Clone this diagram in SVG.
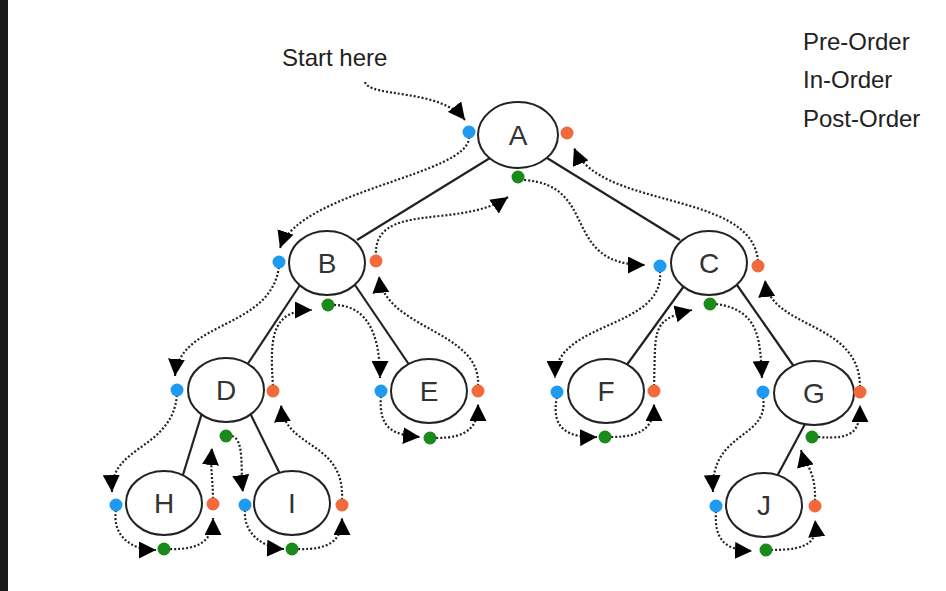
<svg xmlns="http://www.w3.org/2000/svg" width="946" height="591" viewBox="0 0 946 591">
<defs>
<marker id="ar" viewBox="0 0 10 10" refX="10" refY="5" markerWidth="17" markerHeight="17" markerUnits="userSpaceOnUse" orient="auto"><path d="M0,0 L10,5 L0,10 z" fill="#000"/></marker>
<style>
.n ellipse{fill:#fff;stroke:#222;stroke-width:2}
.n text{font-family:"Liberation Sans",Arial,sans-serif;font-size:28px;fill:#333;text-anchor:middle}
.e line{stroke:#222;stroke-width:2.2}
.t path{fill:none;stroke:#222;stroke-width:2.2;stroke-dasharray:2 2;marker-end:url(#ar)}
.b{fill:#1e9bf0}.o{fill:#f06a3c}.g{fill:#1a8a1a}
.lbl{font-family:"Liberation Sans",Arial,sans-serif;font-size:24px;fill:#222}
</style>
</defs>
<rect width="946" height="591" fill="#fff"/>
<rect width="8" height="591" fill="#1a1a1a"/>
<g class="e">
<line x1="490" y1="158" x2="357" y2="240"/><line x1="547" y1="158" x2="680" y2="240"/>
<line x1="300" y1="285" x2="247" y2="365"/><line x1="355" y1="285" x2="410" y2="366"/>
<line x1="684" y1="286" x2="626" y2="366"/><line x1="737" y1="285" x2="795" y2="368"/>
<line x1="202" y1="413" x2="182" y2="478"/><line x1="250" y1="413" x2="282" y2="478"/>
<line x1="805" y1="424" x2="775" y2="480"/>
</g>
<g class="t">
<path d="M365,82 C370,98 440,88 465,120"/>
<path d="M469,137 C470,175 300,190 280,248"/>
<path d="M279,267 C270,330 180,320 175,376"/>
<path d="M177,395 C172,450 110,445 112,492"/>
<path d="M116,510 C112,535 130,550 156,550"/>
<path d="M170,549 C200,550 213,540 213,518"/>
<path d="M213,499 C213,480 210,470 212,448"/>
<path d="M232,436 C245,440 240,470 243,492"/>
<path d="M245,510 C243,535 265,548 284,549"/>
<path d="M298,549 C330,550 342,540 342,518"/>
<path d="M342,500 C345,440 285,450 281,405"/>
<path d="M273,386 C270,340 270,310 312,310"/>
<path d="M334,305 C375,305 380,350 380,378"/>
<path d="M381,396 C378,430 395,435 420,437"/>
<path d="M436,438 C470,438 478,425 478,404"/>
<path d="M478,386 C482,330 385,330 379,276"/>
<path d="M376,257 C372,200 460,230 508,197"/>
<path d="M524,180 C600,185 560,265 645,265"/>
<path d="M660,271 C665,330 555,320 555,378"/>
<path d="M557,397 C550,430 570,438 597,437"/>
<path d="M611,437 C645,437 654,425 654,404"/>
<path d="M654,386 C656,330 650,320 692,310"/>
<path d="M716,304 C760,310 760,340 762,378"/>
<path d="M763,397 C770,440 710,430 713,492"/>
<path d="M716,511 C714,540 725,550 752,551"/>
<path d="M771,550 C812,550 817,540 815,520"/>
<path d="M815,501 C816,470 805,465 801,450"/>
<path d="M818,437 C855,440 860,430 860,405"/>
<path d="M860,387 C860,320 770,330 765,280"/>
<path d="M758,261 C752,190 600,210 574,148"/>
</g>
<g id="A" class="n"><ellipse cx="518" cy="135" rx="40" ry="33"/><text x="518" y="145">A</text></g>
<g id="B" class="n"><ellipse cx="327" cy="263" rx="38" ry="32"/><text x="327" y="273">B</text></g>
<g id="C" class="n"><ellipse cx="709" cy="263" rx="38" ry="32"/><text x="709" y="273">C</text></g>
<g id="D" class="n"><ellipse cx="226" cy="390" rx="38" ry="32"/><text x="226" y="400">D</text></g>
<g id="E" class="n"><ellipse cx="429" cy="391" rx="38" ry="32"/><text x="429" y="401">E</text></g>
<g id="F" class="n"><ellipse cx="606" cy="391" rx="38" ry="32"/><text x="606" y="401">F</text></g>
<g id="G" class="n"><ellipse cx="814" cy="393" rx="40" ry="32"/><text x="814" y="403">G</text></g>
<g id="H" class="n"><ellipse cx="164" cy="503" rx="38" ry="32"/><text x="164" y="513">H</text></g>
<g id="I" class="n"><ellipse cx="292" cy="503" rx="38" ry="32"/><text x="292" y="513">I</text></g>
<g id="J" class="n"><ellipse cx="764" cy="505" rx="38" ry="32"/><text x="764" y="515">J</text></g>
<g id="dots">
<circle class="b" cx="469" cy="132" r="6.5"/><circle class="o" cx="567" cy="133" r="6.5"/><circle class="g" cx="518" cy="177" r="6.5"/>
<circle class="b" cx="279" cy="262" r="6.5"/><circle class="o" cx="376" cy="261" r="6.5"/><circle class="g" cx="328" cy="305" r="6.5"/>
<circle class="b" cx="660" cy="266" r="6.5"/><circle class="o" cx="758" cy="266" r="6.5"/><circle class="g" cx="710" cy="304" r="6.5"/>
<circle class="b" cx="177" cy="390" r="6.5"/><circle class="o" cx="273" cy="391" r="6.5"/><circle class="g" cx="226" cy="436" r="6.5"/>
<circle class="b" cx="381" cy="391" r="6.5"/><circle class="o" cx="478" cy="391" r="6.5"/><circle class="g" cx="430" cy="438" r="6.5"/>
<circle class="b" cx="557" cy="392" r="6.5"/><circle class="o" cx="654" cy="391" r="6.5"/><circle class="g" cx="605" cy="437" r="6.5"/>
<circle class="b" cx="763" cy="392" r="6.5"/><circle class="o" cx="860" cy="392" r="6.5"/><circle class="g" cx="812" cy="437" r="6.5"/>
<circle class="b" cx="116" cy="505" r="6.5"/><circle class="o" cx="213" cy="504" r="6.5"/><circle class="g" cx="164" cy="549" r="6.5"/>
<circle class="b" cx="245" cy="505" r="6.5"/><circle class="o" cx="342" cy="505" r="6.5"/><circle class="g" cx="292" cy="549" r="6.5"/>
<circle class="b" cx="716" cy="506" r="6.5"/><circle class="o" cx="815" cy="506" r="6.5"/><circle class="g" cx="766" cy="550" r="6.5"/>
</g>
<text class="lbl" x="282" y="66">Start here</text>
<text class="lbl" x="803" y="50">Pre-Order</text>
<text class="lbl" x="803" y="88">In-Order</text>
<text class="lbl" x="803" y="127">Post-Order</text>
</svg>
